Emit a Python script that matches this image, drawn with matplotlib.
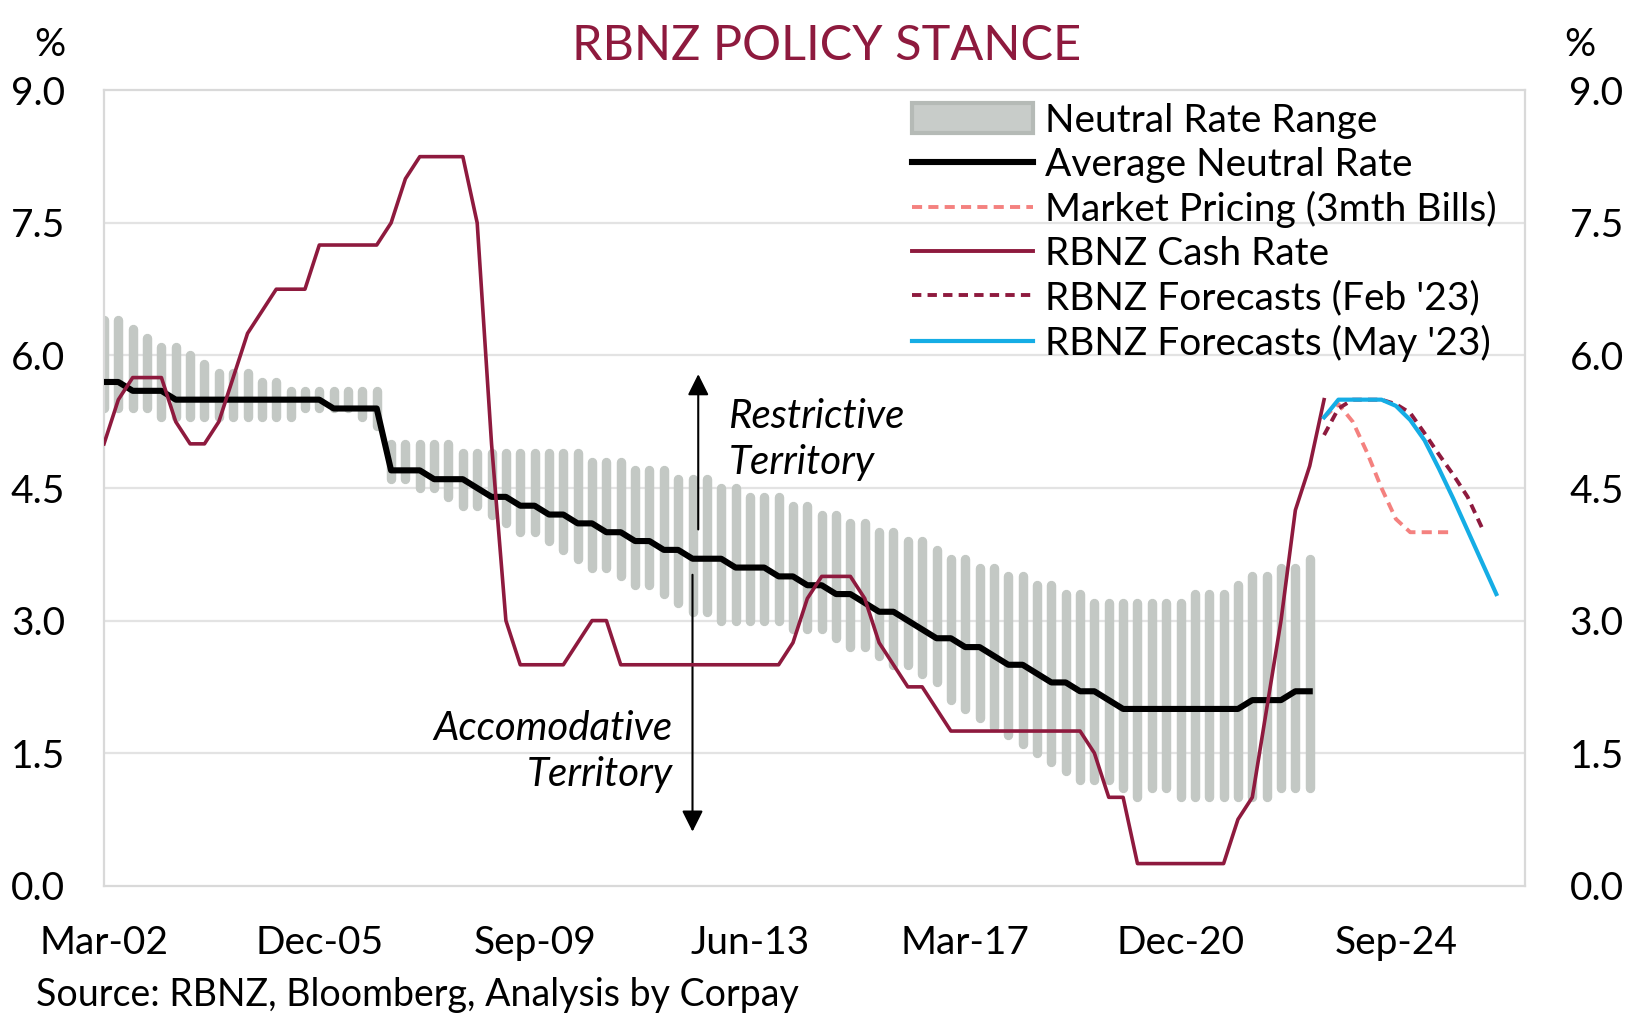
import numpy as np
import matplotlib.pyplot as plt
from matplotlib.lines import Line2D
from matplotlib.patches import Patch

plt.rcParams['font.family'] = ['Lato', 'DejaVu Sans']

# quarterly categories, Mar-02 .. Dec-26
months = ['Mar', 'Jun', 'Sep', 'Dec']
quarters = ['{}-{:02d}'.format(months[i % 4], 2 + i // 4) for i in range(100)]

# RBNZ cash rate, Mar-02 .. Jun-23
cash_rate = [5.0, 5.5, 5.75, 5.75, 5.75, 5.25, 5.0, 5.0, 5.25, 5.75,
             6.25, 6.5, 6.75, 6.75, 6.75, 7.25, 7.25, 7.25, 7.25, 7.25,
             7.5, 8.0, 8.25, 8.25, 8.25, 8.25, 7.5, 5.0, 3.0, 2.5,
             2.5, 2.5, 2.5, 2.75, 3.0, 3.0, 2.5, 2.5, 2.5, 2.5,
             2.5, 2.5, 2.5, 2.5, 2.5, 2.5, 2.5, 2.5, 2.75, 3.25,
             3.5, 3.5, 3.5, 3.25, 2.75, 2.5, 2.25, 2.25, 2.0, 1.75,
             1.75, 1.75, 1.75, 1.75, 1.75, 1.75, 1.75, 1.75, 1.75, 1.5,
             1.0, 1.0, 0.25, 0.25, 0.25, 0.25, 0.25, 0.25, 0.25, 0.75,
             1.0, 2.0, 3.0, 4.25, 4.75, 5.5]

# average neutral rate, Mar-02 .. Mar-23
avg_neutral = [5.7, 5.7, 5.6, 5.6, 5.6, 5.5, 5.5, 5.5, 5.5, 5.5,
               5.5, 5.5, 5.5, 5.5, 5.5, 5.5, 5.4, 5.4, 5.4, 5.4,
               4.7, 4.7, 4.7, 4.6, 4.6, 4.6, 4.5, 4.4, 4.4, 4.3,
               4.3, 4.2, 4.2, 4.1, 4.1, 4.0, 4.0, 3.9, 3.9, 3.8,
               3.8, 3.7, 3.7, 3.7, 3.6, 3.6, 3.6, 3.5, 3.5, 3.4,
               3.4, 3.3, 3.3, 3.2, 3.1, 3.1, 3.0, 2.9, 2.8, 2.8,
               2.7, 2.7, 2.6, 2.5, 2.5, 2.4, 2.3, 2.3, 2.2, 2.2,
               2.1, 2.0, 2.0, 2.0, 2.0, 2.0, 2.0, 2.0, 2.0, 2.0,
               2.1, 2.1, 2.1, 2.2, 2.2]

# neutral rate range (upper / lower), Mar-02 .. Mar-23
neutral_hi = [6.4, 6.4, 6.3, 6.2, 6.1, 6.1, 6.0, 5.9, 5.8, 5.8,
              5.8, 5.7, 5.7, 5.6, 5.6, 5.6, 5.6, 5.6, 5.6, 5.6,
              5.0, 5.0, 5.0, 5.0, 5.0, 4.9, 4.9, 4.9, 4.9, 4.9,
              4.9, 4.9, 4.9, 4.9, 4.8, 4.8, 4.8, 4.7, 4.7, 4.7,
              4.6, 4.6, 4.6, 4.5, 4.5, 4.4, 4.4, 4.4, 4.3, 4.3,
              4.2, 4.2, 4.1, 4.1, 4.0, 4.0, 3.9, 3.9, 3.8, 3.7,
              3.7, 3.6, 3.6, 3.5, 3.5, 3.4, 3.4, 3.3, 3.3, 3.2,
              3.2, 3.2, 3.2, 3.2, 3.2, 3.2, 3.3, 3.3, 3.3, 3.4,
              3.5, 3.5, 3.6, 3.6, 3.7]
neutral_lo = [5.4, 5.4, 5.4, 5.4, 5.3, 5.3, 5.3, 5.3, 5.3, 5.3,
              5.3, 5.3, 5.3, 5.3, 5.4, 5.4, 5.4, 5.4, 5.3, 5.2,
              4.6, 4.6, 4.5, 4.5, 4.4, 4.3, 4.3, 4.2, 4.1, 4.0,
              4.0, 3.9, 3.8, 3.7, 3.6, 3.6, 3.5, 3.4, 3.4, 3.3,
              3.2, 3.1, 3.1, 3.0, 3.0, 3.0, 3.0, 3.0, 2.9, 2.9,
              2.9, 2.8, 2.7, 2.7, 2.6, 2.5, 2.5, 2.4, 2.3, 2.1,
              2.0, 1.9, 1.8, 1.7, 1.6, 1.5, 1.4, 1.3, 1.2, 1.2,
              1.2, 1.1, 1.0, 1.1, 1.1, 1.0, 1.0, 1.0, 1.0, 1.0,
              1.0, 1.0, 1.1, 1.1, 1.1]

# forecasts, all starting Jun-23
mkt_pricing = [5.3, 5.45, 5.25, 4.9, 4.5, 4.15, 4.0, 4.0, 4.0, 4.0]
feb_fcst = [5.1, 5.4, 5.5, 5.5, 5.5, 5.45, 5.35, 5.12, 4.88, 4.65, 4.4, 4.05]
may_fcst = [5.3, 5.5, 5.5, 5.5, 5.5, 5.43, 5.27, 5.04, 4.72, 4.38, 4.02, 3.66, 3.3]

MAROON = '#8E1A3E'
GREY = '#C3C8C4'

fig = plt.figure(figsize=(16.3, 10.27), dpi=100)
ax = fig.add_axes([0.0638, 0.1376, 0.8718, 0.7744])

x_hist = np.arange(len(avg_neutral))
x_cash = np.arange(len(cash_rate))
start = len(cash_rate) - 1

for y in [1.5, 3.0, 4.5, 6.0, 7.5]:
    ax.axhline(y, color='#E3E3E3', lw=1.6, zorder=0)

bars = ax.vlines(x_hist, neutral_lo, neutral_hi, color=GREY, lw=6.8, zorder=1)
bars.set_capstyle('round')

ax.plot(x_hist, avg_neutral, color='black', lw=4.4, zorder=3)
ax.plot(x_cash, cash_rate, color=MAROON, lw=2.6, zorder=4)
ax.plot(np.arange(start, start + len(mkt_pricing)), mkt_pricing, color='#F4817F',
        lw=2.8, dashes=(2.6, 1.6), zorder=4)
ax.plot(np.arange(start, start + len(feb_fcst)), feb_fcst, color=MAROON,
        lw=2.8, dashes=(2.4, 1.6), zorder=5)
ax.plot(np.arange(start, start + len(may_fcst)), may_fcst, color='#15ADE5',
        lw=3.0, zorder=6)

# arrows + territory labels
ax.annotate('', xy=(41.4, 5.82), xytext=(41.4, 4.0),
            arrowprops=dict(arrowstyle='-|>', color='black', lw=1.5, mutation_scale=32))
ax.annotate('', xy=(41.0, 0.58), xytext=(41.0, 3.55),
            arrowprops=dict(arrowstyle='-|>', color='black', lw=1.5, mutation_scale=32))
ax.text(43.5, 5.05, 'Restrictive\nTerritory', style='italic', fontsize=29,
        ha='left', va='center', linespacing=1.28)
ax.text(39.6, 1.52, 'Accomodative\nTerritory', style='italic', fontsize=29,
        ha='right', va='center', linespacing=1.28, multialignment='right')

ax.set_xlim(0, 99)
ax.set_ylim(0, 9)
yt = [0, 1.5, 3.0, 4.5, 6.0, 7.5, 9.0]
ax.set_yticks(yt)
ax.set_yticklabels(['{:.1f}'.format(v) for v in yt])
ax.set_xticks(range(0, 100, 15))
ax.set_xticklabels([quarters[i] for i in range(0, 100, 15)])
ax.tick_params(axis='y', length=0, labelsize=28, pad=28)
ax.tick_params(axis='x', length=0, labelsize=28, pad=28)
for s in ax.spines.values():
    s.set_color('#D9D9D9')
    s.set_linewidth(1.6)

ax2 = ax.twinx()
ax2.set_ylim(0, 9)
ax2.set_yticks(yt)
ax2.set_yticklabels(['{:.1f}'.format(v) for v in yt])
ax2.tick_params(axis='y', length=0, labelsize=28, pad=32)
for s in ax2.spines.values():
    s.set_visible(False)

handles = [Patch(facecolor='#C8CCC9', edgecolor='#B5BAB6', linewidth=3),
           Line2D([], [], color='black', lw=4.4),
           Line2D([], [], color='#F4817F', lw=2.8, dashes=(2.6, 1.6)),
           Line2D([], [], color=MAROON, lw=2.8),
           Line2D([], [], color=MAROON, lw=2.8, dashes=(2.4, 1.6)),
           Line2D([], [], color='#15ADE5', lw=3.0)]
names = ['Neutral Rate Range', 'Average Neutral Rate', 'Market Pricing (3mth Bills)',
         'RBNZ Cash Rate', "RBNZ Forecasts (Feb '23)", "RBNZ Forecasts (May '23)"]
leg = ax.legend(handles, names, loc='upper left', bbox_to_anchor=(0.555, 1.009),
                frameon=False, fontsize=28, handlelength=3.1, handleheight=0.8,
                handletextpad=0.32, labelspacing=0.21, borderaxespad=0.1)
leg.set_zorder(10)

fig.text(0.507, 1 - 46 / 1027, 'RBNZ POLICY STANCE', color=MAROON, fontsize=35,
         ha='center', va='center')
fig.text(50 / 1630, 1 - 45 / 1027, '%', fontsize=28, ha='center', va='center')
fig.text(1580 / 1630, 1 - 45 / 1027, '%', fontsize=28, ha='center', va='center')
fig.text(36 / 1630, 1 - 995 / 1027, 'Source: RBNZ, Bloomberg, Analysis by Corpay',
         fontsize=27, ha='left', va='center')

fig.savefig('out.png', dpi=100)
